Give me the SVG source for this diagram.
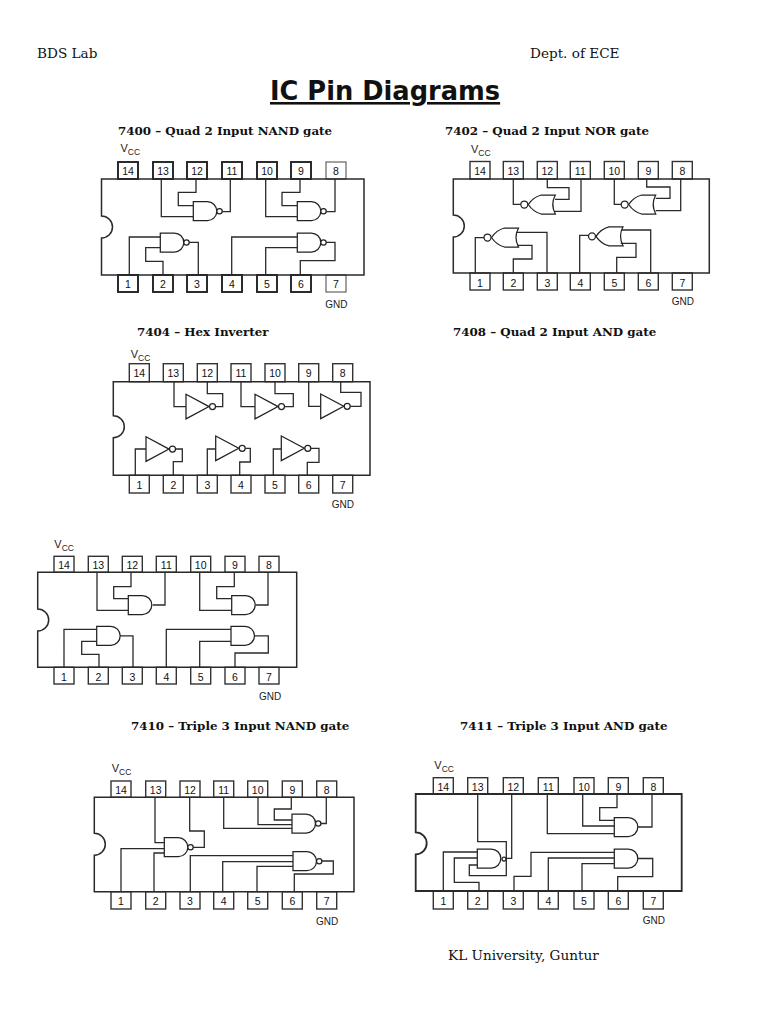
<svg xmlns="http://www.w3.org/2000/svg" width="768" height="1024" viewBox="0 0 768 1024">
<style>
.doc{font-family:"DejaVu Serif",serif;font-size:13.6px;fill:#111}
.cap{font-family:"DejaVu Serif",serif;font-size:11.9px;font-weight:bold;fill:#111}
.title{font-family:"DejaVu Sans",sans-serif;font-size:25.7px;font-weight:bold;fill:#111;text-decoration:underline}
.pin rect{fill:#fff;stroke:#333;stroke-width:1.4}
.pin text{font-family:"Liberation Sans",sans-serif;font-size:10.5px;fill:#111;text-anchor:middle}
.lab{font-family:"Liberation Sans",sans-serif;font-size:10px;fill:#222}
.vcc{font-family:"Liberation Sans",sans-serif;font-size:11px;fill:#222}
.body{fill:none;stroke:#2a2a2a;stroke-width:1.5}
.gate{fill:#fff;stroke:#222;stroke-width:1.25}
.w{fill:none;stroke:#2a2a2a;stroke-width:1.3}
.sub{font-size:8.5px}
#ic7400 .pin rect{stroke:#222;stroke-width:1.9}
#ic7400 .pin rect.thin{stroke:#555;stroke-width:1.1}
#ic7411 .body{stroke-width:1.8}
</style>
<defs>
<g id="nand" class="gate"><path d="M0,0H14A9.5,9.5 0 0 1 14,19H0Z"/><circle cx="26.2" cy="9.5" r="2.7"/></g>
<g id="and" class="gate"><path d="M0,0H14A9.5,9.5 0 0 1 14,19H0Z"/></g>
<g id="nor" class="gate"><path d="M27,0H13Q5,2 0,9.5Q5,17 13,19H27Q22,9.5 27,0Z"/><circle cx="-4" cy="9.5" r="3.5"/></g>
<g id="inv" class="gate"><path d="M0,0L23,12.3L0,24.6Z"/><circle cx="26.5" cy="12.3" r="3"/></g>
</defs>
<rect width="768" height="1024" fill="#fff"/>
<g id="page-text">
<text class="doc" x="37" y="58">BDS Lab</text>
<text class="doc" x="530" y="58">Dept. of ECE</text>
<text class="title" x="270" y="100">IC Pin Diagrams</text>
<text class="cap" x="118" y="135">7400 – Quad 2 Input NAND gate</text>
<text class="cap" x="445" y="135">7402 – Quad 2 Input NOR gate</text>
<text class="cap" x="137" y="336">7404 – Hex Inverter</text>
<text class="cap" x="453" y="336">7408 – Quad 2 Input AND gate</text>
<text class="cap" x="131" y="730">7410 – Triple 3 Input NAND gate</text>
<text class="cap" x="460" y="730">7411 – Triple 3 Input AND gate</text>
<text class="doc" x="448" y="960">KL University, Guntur</text>
</g>
<g id="ic7400">
<g class="pin">
<rect x="118" y="162" width="20" height="17"/><text x="128" y="175">14</text>
<rect x="153" y="162" width="20" height="17"/><text x="163" y="175">13</text>
<rect x="187" y="162" width="20" height="17"/><text x="197" y="175">12</text>
<rect x="222" y="162" width="20" height="17"/><text x="232" y="175">11</text>
<rect x="257" y="162" width="20" height="17"/><text x="267" y="175">10</text>
<rect x="291" y="162" width="20" height="17"/><text x="301" y="175">9</text>
<rect class="thin" x="326" y="162" width="20" height="17"/><text x="336" y="175">8</text>
<rect x="118" y="275" width="20" height="17"/><text x="128" y="288">1</text>
<rect x="153" y="275" width="20" height="17"/><text x="163" y="288">2</text>
<rect x="187" y="275" width="20" height="17"/><text x="197" y="288">3</text>
<rect x="222" y="275" width="20" height="17"/><text x="232" y="288">4</text>
<rect x="257" y="275" width="20" height="17"/><text x="267" y="288">5</text>
<rect x="291" y="275" width="20" height="17"/><text x="301" y="288">6</text>
<rect class="thin" x="326" y="275" width="20" height="17"/><text x="336" y="288">7</text>
</g>
<path class="body" d="M101.5,179H364V275H101.5V238A11,11 0 0 0 101.5,216Z"/>
<use href="#nand" x="193.3" y="201.7"/><use href="#nand" x="297.3" y="201.7"/>
<use href="#nand" x="160.3" y="233"/><use href="#nand" x="297.3" y="233"/>
<text class="vcc" x="120.5" y="152">V<tspan class="sub" dy="3">CC</tspan></text>
<text class="lab" x="325.3" y="307.5">GND</text>
</g>
<g id="ic7402">
<g class="pin">
<rect x="470" y="161.5" width="20" height="17.5"/><text x="480" y="175">14</text>
<rect x="503.3" y="161.5" width="20" height="17.5"/><text x="513.3" y="175">13</text>
<rect x="537.3" y="161.5" width="20" height="17.5"/><text x="547.3" y="175">12</text>
<rect x="570.3" y="161.5" width="20" height="17.5"/><text x="580.3" y="175">11</text>
<rect x="604.3" y="161.5" width="20" height="17.5"/><text x="614.3" y="175">10</text>
<rect x="638.3" y="161.5" width="20" height="17.5"/><text x="648.3" y="175">9</text>
<rect x="672.3" y="161.5" width="20" height="17.5"/><text x="682.3" y="175">8</text>
<rect x="470" y="273" width="20" height="17"/><text x="480" y="287">1</text>
<rect x="503.3" y="273" width="20" height="17"/><text x="513.3" y="287">2</text>
<rect x="537.3" y="273" width="20" height="17"/><text x="547.3" y="287">3</text>
<rect x="570.3" y="273" width="20" height="17"/><text x="580.3" y="287">4</text>
<rect x="604.3" y="273" width="20" height="17"/><text x="614.3" y="287">5</text>
<rect x="638.3" y="273" width="20" height="17"/><text x="648.3" y="287">6</text>
<rect x="672.3" y="273" width="20" height="17"/><text x="682.3" y="287">7</text>
</g>
<path class="body" d="M453.3,179H709.3V273H453.3V237A11,11 0 0 0 453.3,215Z"/>
<use href="#nor" x="528.3" y="195"/><use href="#nor" x="628.7" y="195"/>
<use href="#nor" x="491.5" y="228"/><use href="#nor" x="596" y="226.8"/>
<text class="vcc" x="471" y="153">V<tspan class="sub" dy="3">CC</tspan></text>
<text class="lab" x="671.7" y="305">GND</text>
</g>
<g id="ic7404">
<g class="pin">
<rect x="129.3" y="363.7" width="20" height="18"/><text x="139.3" y="377">14</text>
<rect x="163.3" y="363.7" width="20" height="18"/><text x="173.3" y="377">13</text>
<rect x="197.3" y="363.7" width="20" height="18"/><text x="207.3" y="377">12</text>
<rect x="231" y="363.7" width="20" height="18"/><text x="241" y="377">11</text>
<rect x="265" y="363.7" width="20" height="18"/><text x="275" y="377">10</text>
<rect x="298.7" y="363.7" width="20" height="18"/><text x="308.7" y="377">9</text>
<rect x="332.7" y="363.7" width="20" height="18"/><text x="342.7" y="377">8</text>
<rect x="129.3" y="475.3" width="20" height="17.7"/><text x="139.3" y="489">1</text>
<rect x="163.3" y="475.3" width="20" height="17.7"/><text x="173.3" y="489">2</text>
<rect x="197.3" y="475.3" width="20" height="17.7"/><text x="207.3" y="489">3</text>
<rect x="231" y="475.3" width="20" height="17.7"/><text x="241" y="489">4</text>
<rect x="265" y="475.3" width="20" height="17.7"/><text x="275" y="489">5</text>
<rect x="298.7" y="475.3" width="20" height="17.7"/><text x="308.7" y="489">6</text>
<rect x="332.7" y="475.3" width="20" height="17.7"/><text x="342.7" y="489">7</text>
</g>
<path class="body" d="M113.3,381.7H370V475.3H113.3V437.7A11,11 0 0 0 113.3,415.7Z"/>
<use href="#inv" x="186" y="394.3"/><use href="#inv" x="255" y="394.3"/><use href="#inv" x="320.7" y="394"/>
<use href="#inv" x="146" y="436.8"/><use href="#inv" x="215.7" y="436"/><use href="#inv" x="281.3" y="436"/>
<text class="vcc" x="130.7" y="357.7">V<tspan class="sub" dy="3">CC</tspan></text>
<text class="lab" x="331.7" y="508">GND</text>
</g>
<g id="ic7408">
<g class="pin">
<rect x="54" y="556.3" width="20" height="16"/><text x="64" y="569">14</text>
<rect x="88.3" y="556.3" width="20" height="16"/><text x="98.3" y="569">13</text>
<rect x="122.3" y="556.3" width="20" height="16"/><text x="132.3" y="569">12</text>
<rect x="156.3" y="556.3" width="20" height="16"/><text x="166.3" y="569">11</text>
<rect x="190.7" y="556.3" width="20" height="16"/><text x="200.7" y="569">10</text>
<rect x="225" y="556.3" width="20" height="16"/><text x="235" y="569">9</text>
<rect x="259" y="556.3" width="20" height="16"/><text x="269" y="569">8</text>
<rect x="54" y="667.3" width="20" height="16.7"/><text x="64" y="681">1</text>
<rect x="88.3" y="667.3" width="20" height="16.7"/><text x="98.3" y="681">2</text>
<rect x="122.3" y="667.3" width="20" height="16.7"/><text x="132.3" y="681">3</text>
<rect x="156.3" y="667.3" width="20" height="16.7"/><text x="166.3" y="681">4</text>
<rect x="190.7" y="667.3" width="20" height="16.7"/><text x="200.7" y="681">5</text>
<rect x="225" y="667.3" width="20" height="16.7"/><text x="235" y="681">6</text>
<rect x="259" y="667.3" width="20" height="16.7"/><text x="269" y="681">7</text>
</g>
<path class="body" d="M37.7,572.3H296.7V667.3H37.7V631A11,11 0 0 0 37.7,609Z"/>
<use href="#and" x="128.3" y="595.5"/><use href="#and" x="231.7" y="595.5"/>
<use href="#and" x="96.7" y="626.3"/><use href="#and" x="231" y="626.3"/>
<text class="vcc" x="54.3" y="548">V<tspan class="sub" dy="3">CC</tspan></text>
<text class="lab" x="259" y="700">GND</text>
</g>
<g id="ic7410">
<g class="pin">
<rect x="111" y="781" width="20" height="16.3"/><text x="121" y="793.5">14</text>
<rect x="145.7" y="781" width="20" height="16.3"/><text x="155.7" y="793.5">13</text>
<rect x="180" y="781" width="20" height="16.3"/><text x="190" y="793.5">12</text>
<rect x="213.7" y="781" width="20" height="16.3"/><text x="223.7" y="793.5">11</text>
<rect x="247.7" y="781" width="20" height="16.3"/><text x="257.7" y="793.5">10</text>
<rect x="282.3" y="781" width="20" height="16.3"/><text x="292.3" y="793.5">9</text>
<rect x="316.7" y="781" width="20" height="16.3"/><text x="326.7" y="793.5">8</text>
<rect x="111" y="891.7" width="20" height="17.3"/><text x="121" y="905">1</text>
<rect x="145.7" y="891.7" width="20" height="17.3"/><text x="155.7" y="905">2</text>
<rect x="180" y="891.7" width="20" height="17.3"/><text x="190" y="905">3</text>
<rect x="213.7" y="891.7" width="20" height="17.3"/><text x="223.7" y="905">4</text>
<rect x="247.7" y="891.7" width="20" height="17.3"/><text x="257.7" y="905">5</text>
<rect x="282.3" y="891.7" width="20" height="17.3"/><text x="292.3" y="905">6</text>
<rect x="316.7" y="891.7" width="20" height="17.3"/><text x="326.7" y="905">7</text>
</g>
<path class="body" d="M94.3,797.3H354V891.7H94.3V855.3A11,11 0 0 0 94.3,833.3Z"/>
<use href="#nand" x="164.3" y="837.7"/><use href="#nand" x="292" y="814"/><use href="#nand" x="293" y="851.7"/>
<text class="vcc" x="111.7" y="771.7">V<tspan class="sub" dy="3">CC</tspan></text>
<text class="lab" x="316" y="925">GND</text>
</g>
<g id="ic7411">
<g class="pin">
<rect x="433.3" y="777.7" width="20" height="16.3"/><text x="443.3" y="790.5">14</text>
<rect x="467.7" y="777.7" width="20" height="16.3"/><text x="477.7" y="790.5">13</text>
<rect x="503.3" y="777.7" width="20" height="16.3"/><text x="513.3" y="790.5">12</text>
<rect x="538.3" y="777.7" width="20" height="16.3"/><text x="548.3" y="790.5">11</text>
<rect x="574" y="777.7" width="20" height="16.3"/><text x="584" y="790.5">10</text>
<rect x="608.3" y="777.7" width="20" height="16.3"/><text x="618.3" y="790.5">9</text>
<rect x="643.3" y="777.7" width="20" height="16.3"/><text x="653.3" y="790.5">8</text>
<rect x="433.3" y="891" width="20" height="18"/><text x="443.3" y="905">1</text>
<rect x="467.7" y="891" width="20" height="18"/><text x="477.7" y="905">2</text>
<rect x="503.3" y="891" width="20" height="18"/><text x="513.3" y="905">3</text>
<rect x="538.3" y="891" width="20" height="18"/><text x="548.3" y="905">4</text>
<rect x="574" y="891" width="20" height="18"/><text x="584" y="905">5</text>
<rect x="608.3" y="891" width="20" height="18"/><text x="618.3" y="905">6</text>
<rect x="643.3" y="891" width="20" height="18"/><text x="653.3" y="905">7</text>
</g>
<path class="body" d="M415.7,794H681.7V891H415.7V854.3A11,11 0 0 0 415.7,832.3Z"/>
<use href="#and" x="477.3" y="849"/><use href="#and" x="614.3" y="817.5"/><use href="#and" x="614.3" y="849"/>
<circle class="gate" cx="504" cy="859" r="2"/>
<text class="vcc" x="434.3" y="769">V<tspan class="sub" dy="3">CC</tspan></text>
<text class="lab" x="642.7" y="924.3">GND</text>
</g>
<g id="connectors" class="w">
<path d="M161.3,179V216.7H193.3M196,179V192.3H178.3V205.7H193.3M230.3,179V211.7H222.2M265.7,179V216.7H297.3M300,179V192.3H282V205.7H297.3M335,179V211.7H326.2M129.3,275V237H160.3M163,275V261.3H145.7V247.7H160.3M198.3,275V242.3H189.2M231.7,275V237H297.3M265.7,275V247.7H297.3M300.3,275V260.7H335V242.3H326.2"/>
<path d="M513.3,179V204.3H520.8M547.3,179V187.7H569V199.3H555M581,179V211.3H555M614.3,179V204.3H621.2M646.7,179V187H670V198.3H655.7M680.7,179V210.7H655.7M475.3,273V237.7H484M547,273V232.3H516.7M513.3,273V259H532V245.3H517.5M579.7,273V235.3H588.5M650.7,273V230H621.7M616.7,273V257.3H636V243.3H620.7"/>
<path d="M174,381.7V406.6H186M207.3,381.7V393.7H222.7V406.6H215.5M241,381.7V406.6H255M275,381.7V393.7H293.3V406.6H284.5M308.7,381.7V406.3H320.7M340.7,381.7V392.3H361V406.3H350.2M135.3,475.3V449H146M173.3,475.3V461.7H182.3V449H175.5M207.3,475.3V449H215.7M239.7,475.3V462H250.3V448.3H245.2M273.3,475.3V449H281.3M307.3,475.3V462.3H319V448.3H310.8"/>
<path d="M97,572.3V610.3H128.3M131,572.3V586.7H113.7V598.7H128.3M165,572.3V605H152.7M199.7,572.3V610.3H231.7M234.3,572.3V586.7H216.7V598.7H231.7M268,572.3V605H255.7M64,667.3V629.3H96.7M99,667.3V654.3H81.7V641.3H96.7M133,667.3V635.8H120.2M166.3,667.3V629.3H231M199.7,667.3V641.3H231M235,667.3V653H268.3V635.8H254.5"/>
<path d="M155,797.3V842.7H164.3M121,891.7V848.7H164.3M154,891.7V853H164.3M189.7,797.3V831H204.3V847.3H193.1M223.7,797.3V828.3H292M258,797.3V824.7H292M291.3,797.3V809H274.3V820H292M326.3,797.3V823.5H321M190.3,891.7V855.7H293M222.7,891.7V861.7H293M257,891.7V866.3H293M294.3,891.7V874H333.3V861H322"/>
<path d="M477.7,794V841.7H506.3V875.7H469.3V865H477.3M511.7,794V858.3H505.5M443.3,891V852H477.3M479,891V882.3H454.3V858H477.3M547.3,794V833.7H614.3M582.7,794V826H614.3M617,794V807.7H599.7V820.3H614.3M652,794V827H638M514,891V876.3H531V852.3H614.3M548.3,891V858H614.3M582,891V863.7H614.3M617.7,891V876.7H652.7V858.5H638"/>
</g>
</svg>
